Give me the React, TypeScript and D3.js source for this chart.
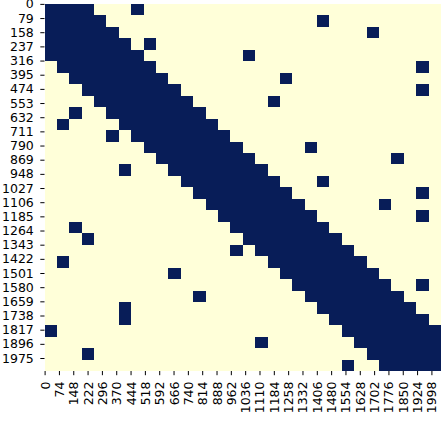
import React, { useEffect, useRef } from 'react';
import * as d3 from 'd3';

// matrix is 2048 x 2048, shown as 32 x 32 blocks of 64
const N = 2048;
const BLOCKS = 32;

// per block-row: first and last dark block column of the diagonal band
const bandStart = [0, 0, 0, 0, 0, 1, 2, 3, 4, 5, 6, 7, 8, 9, 10, 11, 12, 13, 14, 15, 16, 17, 18, 19, 20, 21, 22, 23, 24, 25, 26, 27];
const bandEnd = [3, 4, 5, 6, 7, 8, 9, 10, 11, 12, 13, 14, 15, 16, 17, 18, 19, 20, 21, 22, 23, 24, 25, 26, 27, 28, 29, 30, 31, 31, 31, 31];

// isolated non-zero blocks off the band: [row, col]
const scattered: [number, number][] = [
  [0, 7], [1, 22], [2, 26], [3, 8], [4, 16], [5, 30], [6, 19], [7, 30],
  [8, 18], [9, 2], [10, 1], [11, 5], [12, 21], [13, 28], [14, 6], [15, 22],
  [16, 30], [17, 27], [18, 30], [19, 2], [20, 3], [21, 15], [22, 1], [23, 10],
  [24, 30], [25, 12], [26, 6], [27, 6], [28, 0], [29, 17], [30, 3], [31, 24],
];

const yTickLabels = [0, 79, 158, 237, 316, 395, 474, 553, 632, 711, 790, 869, 948, 1027, 1106, 1185, 1264, 1343, 1422, 1501, 1580, 1659, 1738, 1817, 1896, 1975];
const xTickLabels = [0, 74, 148, 222, 296, 370, 444, 518, 592, 666, 740, 814, 888, 962, 1036, 1110, 1184, 1258, 1332, 1406, 1480, 1554, 1628, 1702, 1776, 1850, 1924, 1998];

const App = () => {
  const ref = useRef<SVGSVGElement>(null);
  const width = 446;
  const height = 421;

  useEffect(() => {
    const left = 44.5, right = 441, top = 3.8, bottom = 371;
    const svg = d3.select(ref.current);
    svg.selectAll('*').remove();

    // build the 0/1 matrix
    const cells: { r: number; c: number; v: number }[] = [];
    for (let r = 0; r < BLOCKS; r++) {
      for (let c = 0; c < BLOCKS; c++) {
        const inBand = c >= bandStart[r] && c <= bandEnd[r];
        const isScatter = scattered.some(([sr, sc]) => sr === r && sc === c);
        cells.push({ r, c, v: inBand || isScatter ? 1 : 0 });
      }
    }

    const x = d3.scaleBand<number>().domain(d3.range(BLOCKS)).range([left, right]);
    const y = d3.scaleBand<number>().domain(d3.range(BLOCKS)).range([top, bottom]);
    const color = d3.scaleLinear<string>().domain([0, 1]).range(['#ffffd9', '#081d58']);

    svg.append('g')
      .selectAll('rect')
      .data(cells)
      .enter()
      .append('rect')
      .attr('x', d => x(d.c)!)
      .attr('y', d => y(d.r)!)
      .attr('width', x.bandwidth() + 0.3)
      .attr('height', y.bandwidth() + 0.3)
      .attr('fill', d => color(d.v))
      .attr('shape-rendering', 'crispEdges');

    // tick scales over the full index range (ticks at cell centres)
    const xi = d3.scaleLinear().domain([-0.5, N - 0.5]).range([left, right]);
    const yi = d3.scaleLinear().domain([-0.5, N - 0.5]).range([top, bottom]);

    const yAxis = svg.append('g')
      .attr('transform', `translate(${left},0)`)
      .call(d3.axisLeft(yi).tickValues(yTickLabels).tickSize(4.2).tickPadding(6.5).tickFormat(d3.format('d')));
    yAxis.select('.domain').remove();

    const xAxis = svg.append('g')
      .attr('transform', `translate(0,${bottom})`)
      .call(d3.axisBottom(xi).tickValues(xTickLabels).tickSize(4.2).tickFormat(d3.format('d')));
    xAxis.select('.domain').remove();
    xAxis.selectAll('text')
      .attr('x', -10.5)
      .attr('y', 0)
      .attr('dy', '0.36em')
      .attr('transform', 'rotate(-90)')
      .style('text-anchor', 'end');

    svg.selectAll('.tick line').attr('stroke', '#000').attr('stroke-width', 1);
    svg.selectAll('.tick text')
      .attr('fill', '#000')
      .style('font-family', '"DejaVu Sans", sans-serif')
      .style('font-size', '12.5px');
  }, []);

  return (
    <svg
      ref={ref}
      width={width}
      height={height}
      viewBox={`0 0 ${width} ${height}`}
      style={{ position: 'absolute', left: 0, top: 0, background: '#fff' }}
    />
  );
};

export default App;
